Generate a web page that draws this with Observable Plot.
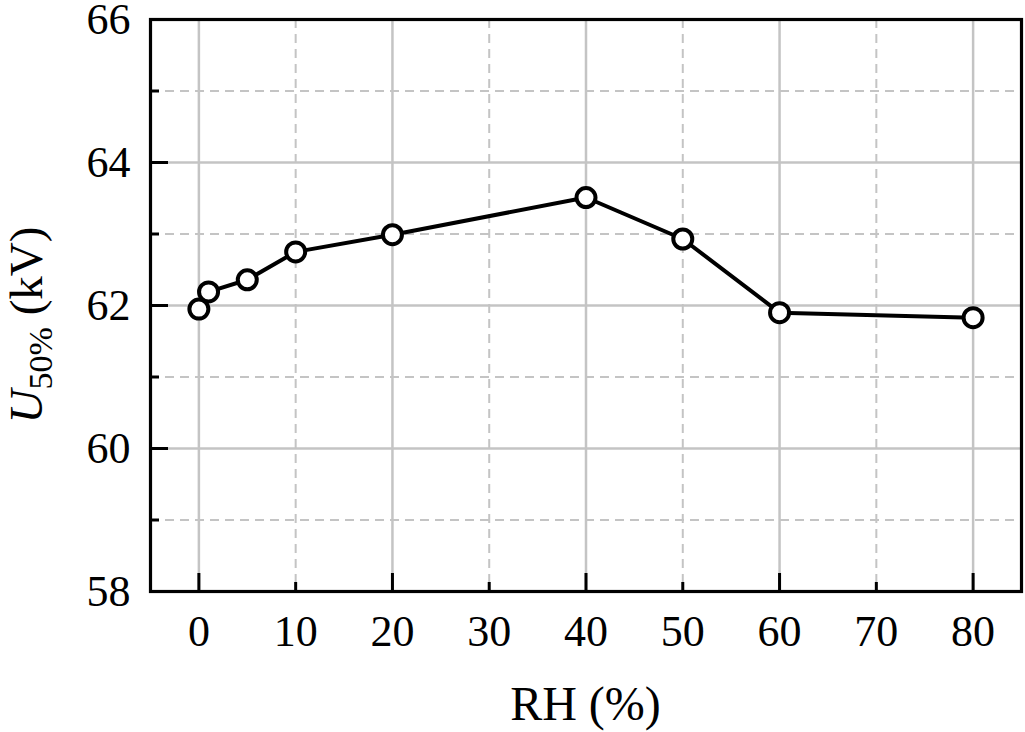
<!DOCTYPE html>
<html><head><meta charset="utf-8">
<script src="https://cdn.jsdelivr.net/npm/d3@7"></script>
<script src="https://cdn.jsdelivr.net/npm/@observablehq/plot@0.6"></script>
<style>body{margin:0;background:#fff}</style>
</head><body><div id="chart"></div>
<script>
const rh = [0, 1, 5, 10, 20, 40, 50, 60, 80];
const u50 = [61.95, 62.19, 62.36, 62.75, 62.99, 63.51, 62.93, 61.90, 61.83];
const xMajor = [0, 20, 40, 60, 80];
const xMinor = [10, 30, 50, 70];
const xTickLabels = [0, 10, 20, 30, 40, 50, 60, 70, 80];
const yMajor = [60, 62, 64];
const yMinor = [59, 61, 63, 65];
const yTickLabels = [58, 60, 62, 64, 66];
const xLabel = "RH (%)";

const data = rh.map((x, i) => ({x, y: u50[i]}));
const W = 1025, H = 732, mL = 150, mT = 19, mR = 4, mB = 141;
const pw = W - mL - mR, ph = H - mT - mB;
const grid = "#c4c4c4";
const font = "'Liberation Serif', 'Times New Roman', serif";

const plot = Plot.plot({
  width: W, height: H,
  marginLeft: mL, marginRight: mR, marginTop: mT, marginBottom: mB,
  style: {fontFamily: font, background: "white", color: "black", overflow: "visible"},
  x: {domain: [-5, 85]},
  y: {domain: [58, 66]},
  marks: [
    Plot.ruleX(xMajor, {x: d => d, stroke: grid, strokeWidth: 2.5}),
    Plot.ruleX(xMinor, {x: d => d, stroke: grid, strokeWidth: 2, strokeDasharray: "9,6"}),
    Plot.ruleY(yMajor, {y: d => d, stroke: grid, strokeWidth: 2.5}),
    Plot.ruleY(yMinor, {y: d => d, stroke: grid, strokeWidth: 2, strokeDasharray: "9,6"}),
    Plot.tickX(xMajor, {x: d => d, insetTop: ph - 18, stroke: "black", strokeWidth: 3}),
    Plot.tickX(xMinor, {x: d => d, insetTop: ph - 9, stroke: "black", strokeWidth: 3}),
    Plot.tickY(yMajor, {y: d => d, insetRight: pw - 18, stroke: "black", strokeWidth: 3}),
    Plot.tickY(yMinor, {y: d => d, insetRight: pw - 9, stroke: "black", strokeWidth: 3}),
    Plot.line(data, {x: "x", y: "y", stroke: "black", strokeWidth: 4}),
    Plot.dot(data, {x: "x", y: "y", r: 9.5, fill: "white", stroke: "black", strokeWidth: 4}),
    Plot.frame({stroke: "black", strokeWidth: 3.2}),
    Plot.axisX(xTickLabels, {tickSize: 0, tickPadding: 23, fontSize: 44, label: null, fill: "black", tickFormat: d3.format("d")}),
    Plot.axisY(yTickLabels, {tickSize: 0, tickPadding: 20, fontSize: 44, label: null, fill: "black", tickFormat: d3.format("d")})
  ]
});
document.getElementById("chart").appendChild(plot);

const svg = d3.select(plot);
svg.append("text")
  .attr("x", mL + pw / 2).attr("y", 720)
  .attr("text-anchor", "middle")
  .attr("font-family", font).attr("font-size", 48).attr("fill", "black")
  .text(xLabel);

const yl = svg.append("text")
  .attr("transform", "translate(42,325) rotate(-90)")
  .attr("text-anchor", "middle")
  .attr("font-family", font).attr("font-size", 47).attr("fill", "black");
yl.append("tspan").attr("font-style", "italic").text("U");
yl.append("tspan").attr("font-size", 34).attr("dy", 10).text("50%");
yl.append("tspan").attr("dy", -10).text(" (kV)");
</script>
</body></html>
